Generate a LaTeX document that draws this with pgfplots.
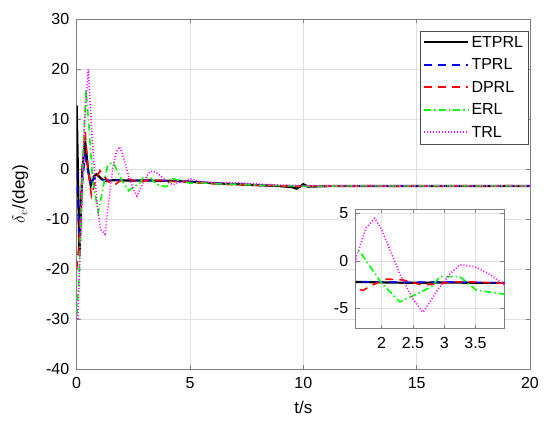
\documentclass[border=0pt]{standalone}
\usepackage{pgfplots}
\usepackage{pgfplotstable}
\pgfplotsset{compat=1.18}
\usepackage{fontspec}
\setmainfont{Liberation Sans}

\definecolor{mgreen}{RGB}{0,255,0}
\definecolor{mmag}{RGB}{255,0,255}
\definecolor{axgray}{RGB}{128,128,128}

% ETPRL
\pgfplotstableread{
t y
0 12.7
0.12 -17.3
0.25 0
0.37 5.7
0.5 0
0.62 -3.3
0.75 -1.5
0.88 -1.0
1.1 -2.0
1.32 -2.4
1.6 -2.2
2.0 -2.25
2.5 -2.3
3.0 -2.25
3.5 -2.3
4.0 -2.3
5 -2.5
6 -2.8
7 -3.0
8 -3.2
9 -3.4
9.5 -3.6
9.7 -3.9
9.85 -3.5
10.0 -3.0
10.2 -3.5
11 -3.4
12 -3.35
14 -3.35
16 -3.35
18 -3.35
20 -3.35
}\etprl

% TPRL
\pgfplotstableread{
t y
0 -0.5
0.1 -13
0.2 -5
0.37 2.7
0.5 -0.5
0.62 -2.7
0.8 -1.8
1.0 -2.2
1.5 -2.2
2.0 -2.2
2.5 -2.25
3.0 -2.2
3.5 -2.25
4.0 -2.3
5 -2.5
6 -2.8
7 -3.0
8 -3.2
9 -3.35
10 -3.4
12 -3.35
14 -3.35
16 -3.35
18 -3.35
20 -3.35
}\tprl

% DPRL
\pgfplotstableread{
t y
0 -20
0.1 -15
0.25 0
0.37 7.7
0.5 0
0.65 -5.3
0.85 -2
1.03 -0.3
1.2 -1.3
1.4 -2.5
1.6 -2.9
1.7 -3.1
1.86 -2.5
2.08 -1.9
2.34 -2.0
2.63 -2.5
2.87 -2.45
3.14 -2.2
3.41 -2.2
3.96 -2.35
4.5 -2.5
5 -2.6
6 -2.9
7 -3.1
8 -3.25
9 -3.35
10 -3.45
11 -3.3
12 -3.45
13 -3.3
14 -3.45
15 -3.3
16 -3.45
17 -3.3
18 -3.45
19 -3.3
20 -3.4
}\dprl

% ERL
\pgfplotstableread{
t y
0 -29.3
0.1 -22
0.2 -8
0.3 5
0.41 16
0.55 8
0.7 -2
0.95 -8.7
1.15 -4
1.35 0.5
1.54 1.3
1.65 1.0
2.0 -2.35
2.29 -4.3
2.55 -3.5
2.8 -2.7
2.93 -1.65
3.25 -1.65
3.51 -3.05
3.96 -3.5
4.25 -1.9
4.55 -2.3
5 -2.8
5.5 -2.7
6 -2.9
7 -3.0
8 -3.2
9 -3.3
10 -3.4
12 -3.35
14 -3.35
16 -3.35
18 -3.35
20 -3.35
}\erl

% TRL
\pgfplotstableread{
t y
0.05 -30
0.2 -10
0.35 10
0.51 20
0.7 5
0.9 -7
1.05 -12
1.25 -13
1.45 -5
1.6 0.5
1.75 3.5
1.89 4.5
2.0 3.3
2.3 -1.5
2.5 -4
2.66 -5.4
2.9 -3
3.1 -1.3
3.25 -0.4
3.49 -0.6
3.7 -1.3
3.96 -2.5
4.25 -3.1
4.6 -2.6
5 -1.9
5.5 -2.5
6 -2.7
7 -2.7
7.65 -2.9
8.5 -3.1
9 -3.2
10 -3.3
12 -3.35
14 -3.35
16 -3.35
18 -3.35
20 -3.35
}\trl

\pgfplotsset{
  mstyle/.style={
    scale only axis,
    axis line style={axgray, line width=0.6pt},
    tick style={axgray, line width=0.6pt},
    major tick length=4pt,
    tick align=inside,
    grid=major,
    grid style={black!12, line width=0.5pt},
    ticklabel style={font=\fontsize{16}{19}\selectfont},
    xticklabel style={yshift=-5pt},
    yticklabel style={xshift=-4pt},
    /pgf/number format/assume math mode=true,
    axis background/.style={fill=white},
  },
  s1/.style={black, line width=2.2pt},
  s2/.style={blue, line width=1.6pt, dash pattern=on 8pt off 6pt},
  s3/.style={red, line width=1.6pt, dash pattern=on 8pt off 6pt},
  s4/.style={mgreen, line width=1.6pt, dash pattern=on 7pt off 3pt on 1.5pt off 3pt},
  s5/.style={mmag, line width=1.6pt, dash pattern=on 1pt off 2pt},
}

\begin{document}
\begin{tikzpicture}
\begin{axis}[
  mstyle,
  at={(0pt,0pt)}, anchor=south west,
  width=453.3pt, height=349.7pt,
  xmin=0, xmax=20, ymin=-40, ymax=30,
  xtick={0,5,10,15,20},
  ytick={-40,-30,-20,-10,0,10,20,30},
  xlabel={t/s},
  ylabel={$\delta_e$/(deg)},
  label style={font=\fontsize{17}{20}\selectfont},
  xlabel style={yshift=-5pt},
  ylabel style={yshift=11pt},
  legend style={
    at={(rel axis cs:0.9962,0.9666)}, anchor=north east,
    draw=black!70,
    font=\fontsize{16}{19}\selectfont,
    row sep=6pt, inner sep=3pt,
    legend cell align=left,
  },
  legend image code/.code={
    \draw[#1] (0pt,0.2pt) -- (44pt,0.2pt);
  },
]
\addplot[s1] table {\etprl};
\addlegendentry{ETPRL}
\addplot[s2] table {\tprl};
\addlegendentry{TPRL}
\addplot[s3] table {\dprl};
\addlegendentry{DPRL}
\addplot[s4] table {\erl};
\addlegendentry{ERL}
\addplot[s5] table {\trl};
\addlegendentry{TRL}
\coordinate (bl) at (rel axis cs:0,0);
\end{axis}

\begin{axis}[
  mstyle,
  at={(279pt,40.3pt)}, anchor=south west,
  width=148.6pt, height=119.4pt,
  xmin=1.585, xmax=3.96, ymin=-7.13, ymax=5.45,
  xtick={2,2.5,3,3.5},
  ytick={-5,0,5},
  clip=true,
]
\addplot[s1] table {\etprl};
\addplot[s2] table {\tprl};
\addplot[s3] table {\dprl};
\addplot[s4] table {\erl};
\addplot[s5] table {\trl};
\end{axis}
\pgfresetboundingbox
\useasboundingbox ([shift={(-76.7pt,-65pt)}]bl) rectangle ([shift={(473.3pt,369pt)}]bl);
\end{tikzpicture}
\end{document}
